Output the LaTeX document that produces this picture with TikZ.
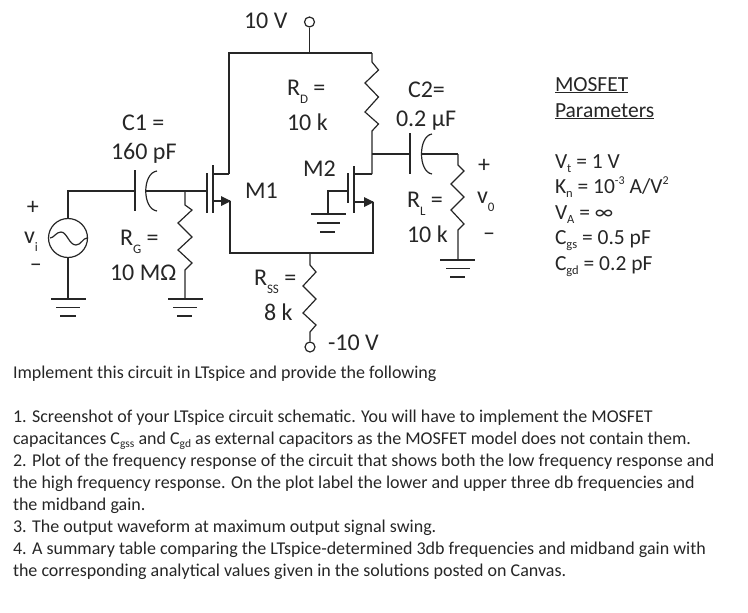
\documentclass[tikz,border=0pt]{standalone}
\usepackage{fontspec}
\setmainfont{Carlito}
\usetikzlibrary{arrows.meta}
\newcommand{\lowtxt}[1]{\raisebox{-0.34em}{\fontsize{13}{13}\selectfont #1}}
\newcommand{\lowp}[1]{\raisebox{-0.2em}{\fontsize{12.5}{12.5}\selectfont #1}}
\newcommand{\uptxt}[1]{\raisebox{0.42em}{\fontsize{12}{12}\selectfont #1}}
\newcommand{\lowb}[1]{\raisebox{-0.2em}{\fontsize{11.5}{11.5}\selectfont #1}}
\tikzset{
  wire/.style={line width=1.2pt,black!85,line join=miter},
  lab/.style={anchor=base west,inner sep=0pt,outer sep=0pt,text=black!85,font=\fontsize{24}{28}\selectfont},
  plab/.style={anchor=base west,inner sep=0pt,outer sep=0pt,text=black!85,font=\fontsize{21.5}{26}\selectfont},
  par/.style={anchor=base west,inner sep=0pt,outer sep=0pt,text=black!85,font=\fontsize{18}{21}\selectfont},
  term/.style={circle,draw=black!85,line width=1.2pt,minimum size=10pt,inner sep=0pt,fill=white},
  srcnode/.style={circle,draw=black!85,line width=1.2pt,minimum size=39pt,inner sep=0pt}
}
\begin{document}
\begin{tikzpicture}[x=1pt,y=-1pt]
\useasboundingbox (0,0) rectangle (748,613);
% coordinates
\coordinate (vddj) at (309.5,53);
\coordinate (railL) at (229,53);
\coordinate (railR) at (372,53);
\coordinate (m1d) at (229,174);
\coordinate (m2d) at (372,174);
\coordinate (outj) at (372,154);
\coordinate (rlt) at (458,154);
\coordinate (m1s) at (230,201);
\coordinate (m2s) at (373,202);
\coordinate (busL) at (230,253);
\coordinate (busR) at (373,253);
\coordinate (rsst) at (310,253);
\coordinate (inL) at (68,191);
\coordinate (gj) at (185,191);
\node[term] (vdd) at (309.5,22) {};
\node[term] (vss) at (310,347) {};
\node[srcnode] (src) at (68,238) {};
% supply rail
\draw[wire] (vdd) -- (vddj);
\draw[wire] (m1d) -- (railL) -- (railR);
% RD
\draw[wire] (railR) -- (372,62) -- (378.5,70) -- (365,83) -- (378.5,97) -- (365,112) -- (378.5,124) -- (372,131) -- (m2d);
\draw[wire] (m2d) -- (354,174);
% C2
\draw[wire] (outj) -- (410,154);
\draw[wire] (410,133) -- (410,174);
\draw[wire] (432,134) .. controls (418,136) and (418,172) .. (432,174);
\draw[wire] (421,154) -- (rlt);
% RL
\draw[wire] (rlt) -- (458,165) -- (464,171) -- (451,184) -- (464,197) -- (451,210) -- (464,224) -- (458,230) -- (458,260);
\draw[wire] (440,260) -- (475,260);
\draw[wire] (446,268.5) -- (470,268.5);
\draw[wire] (450,277) -- (465,277);
% source
\draw[wire] (src) -- (inL) -- (135,191);
\draw[wire] (135,170) -- (135,211);
\draw[wire] (157,171) .. controls (142,173) and (142,209) .. (157,211);
\draw[wire] (146,191) -- (207,191);
\draw[wire] (207,173) -- (207,213);
\draw[wire] (213,165) -- (213,213);
\draw[wire] (50,238) .. controls (54,238) and (56,232) .. (61,232) .. controls (67,232) and (69,245) .. (76,245) .. controls (81,245) and (83,238) .. (87,238);
\draw[wire] (src) -- (68,299);
\draw[wire] (51,299) -- (86,299);
\draw[wire] (56,307.5) -- (80,307.5);
\draw[wire] (60,316) -- (76,316);
% RG
\draw[wire] (gj) -- (185,205) -- (192,210) -- (178,223) -- (192,237) -- (178,250) -- (192,263) -- (185,270) -- (185,299);
\draw[wire] (168,299) -- (203,299);
\draw[wire] (173,307.5) -- (197,307.5);
\draw[wire] (177,316) -- (192,316);
% M1
\draw[wire] (213,174) -- (m1d);
\draw[wire] (213,201) -- (m1s);
\draw[wire] (m1s) -- (busL) -- (busR) -- (m2s);
\fill[black!85] (231,201) -- (221,196) -- (221,206) -- cycle;
% M2
\draw[wire] (348,173) -- (348,203);
\draw[wire] (354,166) -- (354,213);
\draw[wire] (354,202) -- (m2s);
\fill[black!85] (374,202) -- (364,197) -- (364,207) -- cycle;
\draw[wire] (348,191) -- (328,191) -- (328,214);
\draw[wire] (311,214) -- (346,214);
\draw[wire] (317,223) -- (340,223);
\draw[wire] (320,232) -- (335,232);
% RSS
\draw[wire] (rsst) -- (310,265) -- (316,272) -- (303,286) -- (316,299) -- (303,313) -- (316,325) -- (310,332) -- (vss);
% labels
\node[lab] (t10v) at (244,28) {10 V};
\node[lab] (tRD) at (287,95) {R\lowtxt{D} =};
\node[lab] (tRDv) at (287,130) {10 k};
\node[lab] (tC2) at (408,97) {C2=};
\node[lab] (tC2v) at (396,126) {0.2 µF};
\node[lab] (tC1) at (122,130) {C1 =};
\node[lab] (tC1v) at (111,159) {160 pF};
\node[lab] (tM2) at (303,176) {M2};
\node[lab] (tM1) at (245,198) {M1};
\node[lab] (tplus) at (27,214) {+};
\node[lab] (tvi) at (24,243) {v\lowtxt{i}};
\node[lab] (tminus) at (30,271) {–};
\node[lab] (tRG) at (120,245) {R\lowtxt{G} =};
\node[lab] (tRGv) at (110,280) {10 MΩ};
\node[lab] (tRL) at (407,207) {R\lowtxt{L} =};
\node[lab] (tRLv) at (407,242) {10 k};
\node[lab] (tvplus) at (478,172) {+};
\node[lab] (tvo) at (477,203) {v\lowtxt{0}};
\node[lab] (tvminus) at (483,240) {–};
\node[lab] (tRSS) at (254,285) {R\lowtxt{SS} =};
\node[lab] (tRSSv) at (264,320) {8 k};
\node[lab] (tvss) at (328,350) {-10 V};
\node[plab] (tmos) at (555,91) {\underline{MOSFET}};
\node[plab] (tpar) at (555,117) {\underline{Parameters}};
\node[plab] (pa) at (555,168.5) {V\lowp{t} = 1 V};
\node[plab] (pb) at (555,193.5) {K\lowp{n} = 10\uptxt{-3} A/V\uptxt{2}};
\node[plab] (pc) at (555,219) {V\lowp{A} = ∞};
\node[plab] (pd) at (555,244.5) {C\lowp{gs} = 0.5 pF};
\node[plab] (pe) at (555,270) {C\lowp{gd} = 0.2 pF};
% text
\node[par] (l0) at (13,378) {Implement this circuit in LTspice and provide the following};
\node[par] (l1) at (13,422) {1. Screenshot of your LTspice circuit schematic. You will have to implement the MOSFET};
\node[par] (l2) at (13,444) {capacitances C\lowb{gss} and C\lowb{gd} as external capacitors as the MOSFET model does not contain them.};
\node[par] (l3) at (13,466) {2. Plot of the frequency response of the circuit that shows both the low frequency response and};
\node[par] (l4) at (13,488) {the high frequency response. On the plot label the lower and upper three db frequencies and};
\node[par] (l5) at (13,510) {the midband gain.};
\node[par] (l6) at (13,532) {3. The output waveform at maximum output signal swing.};
\node[par] (l7) at (13,554) {4. A summary table comparing the LTspice-determined 3db frequencies and midband gain with};
\node[par] (l8) at (13,576) {the corresponding analytical values given in the solutions posted on Canvas.};
\end{tikzpicture}
\end{document}
